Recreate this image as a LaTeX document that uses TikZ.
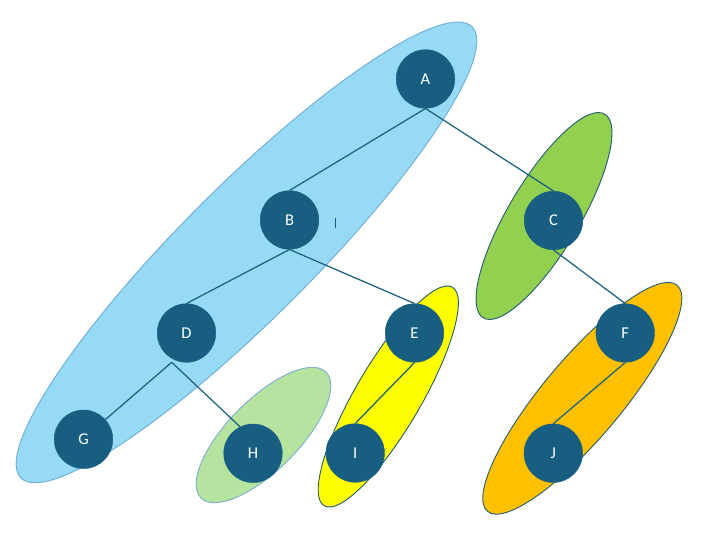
\documentclass[tikz,border=0pt]{standalone}
\usepackage{fontspec}
\setmainfont{Carlito}
\definecolor{nodeblue}{RGB}{23,94,128}
\definecolor{edgeblue}{RGB}{28,96,130}
\definecolor{skyfill}{RGB}{150,218,245}
\definecolor{skyline}{RGB}{110,172,212}
\definecolor{cgreen}{RGB}{146,208,80}
\definecolor{hgreen}{RGB}{181,228,161}
\definecolor{hline}{RGB}{125,172,210}
\definecolor{grpline}{RGB}{35,90,115}
\definecolor{yel}{RGB}{255,255,0}
\definecolor{orng}{RGB}{255,192,0}
\begin{document}
\begin{tikzpicture}[x=1pt,y=-1pt,
  tn/.style={circle, fill=nodeblue, draw=nodeblue, line width=0.4pt, minimum size=58.6pt, inner sep=0pt, text=white, font=\fontsize{16.5}{19}\selectfont},
  edge/.style={draw=edgeblue, line width=1.25pt},
  grp/.style={line width=0.9pt}]
\useasboundingbox (0,0) rectangle (701,538);
% group ellipses
\path[grp, fill=skyfill, draw=skyline, rotate around={45:(246.5,252.4)}] (246.5,252.4) ellipse [x radius=319pt, y radius=66pt];
\path[grp, fill=cgreen, draw=grpline, rotate around={59.2:(544,216)}] (544,216) ellipse [x radius=118.6pt, y radius=35.5pt];
\path[grp, fill=hgreen, draw=hline, rotate around={45.2:(263.5,435)}] (263.5,435) ellipse [x radius=88.7pt, y radius=35.3pt];
\path[grp, fill=yel, draw=grpline, rotate around={59.6:(388.3,396.5)}] (388.3,396.5) ellipse [x radius=126.7pt, y radius=32.8pt];
\path[grp, fill=orng, draw=grpline, rotate around={50:(582.3,398.3)}] (582.3,398.3) ellipse [x radius=147.5pt, y radius=39.5pt];
% nodes
\node[tn] (A) at (425.5,79) {A};
\node[tn] (B) at (289.5,220) {B};
\node[tn] (C) at (553.5,220.5) {C};
\node[tn] (D) at (186.5,333) {D};
\node[tn] (E) at (414.5,333) {E};
\node[tn] (F) at (625.2,333) {F};
\node[tn] (G) at (83.5,439.3) {G};
\node[tn] (H) at (253,453.3) {H};
\node[tn] (I) at (355.2,453) {I};
\node[tn] (J) at (553.3,453.2) {J};
\coordinate (dp) at (171.7,362.3);
% connectors
\draw[edge] (A.south) -- (B.north);
\draw[edge] (A.south) -- (C.north);
\draw[edge] (B.south) -- (D.north);
\draw[edge] (B.south) -- (E.north);
\draw[edge] (C.south) -- (F.north);
\draw[edge] (dp) -- (G.42);
\draw[edge] (dp) -- (H.116);
\draw[edge] (E.south) -- (I.north);
\draw[edge] (F.south) -- (J.north);
% cursor mark
\draw[draw=grpline, line width=0.8pt] (335.7,217.7) -- (335.7,228);
\end{tikzpicture}
\end{document}
